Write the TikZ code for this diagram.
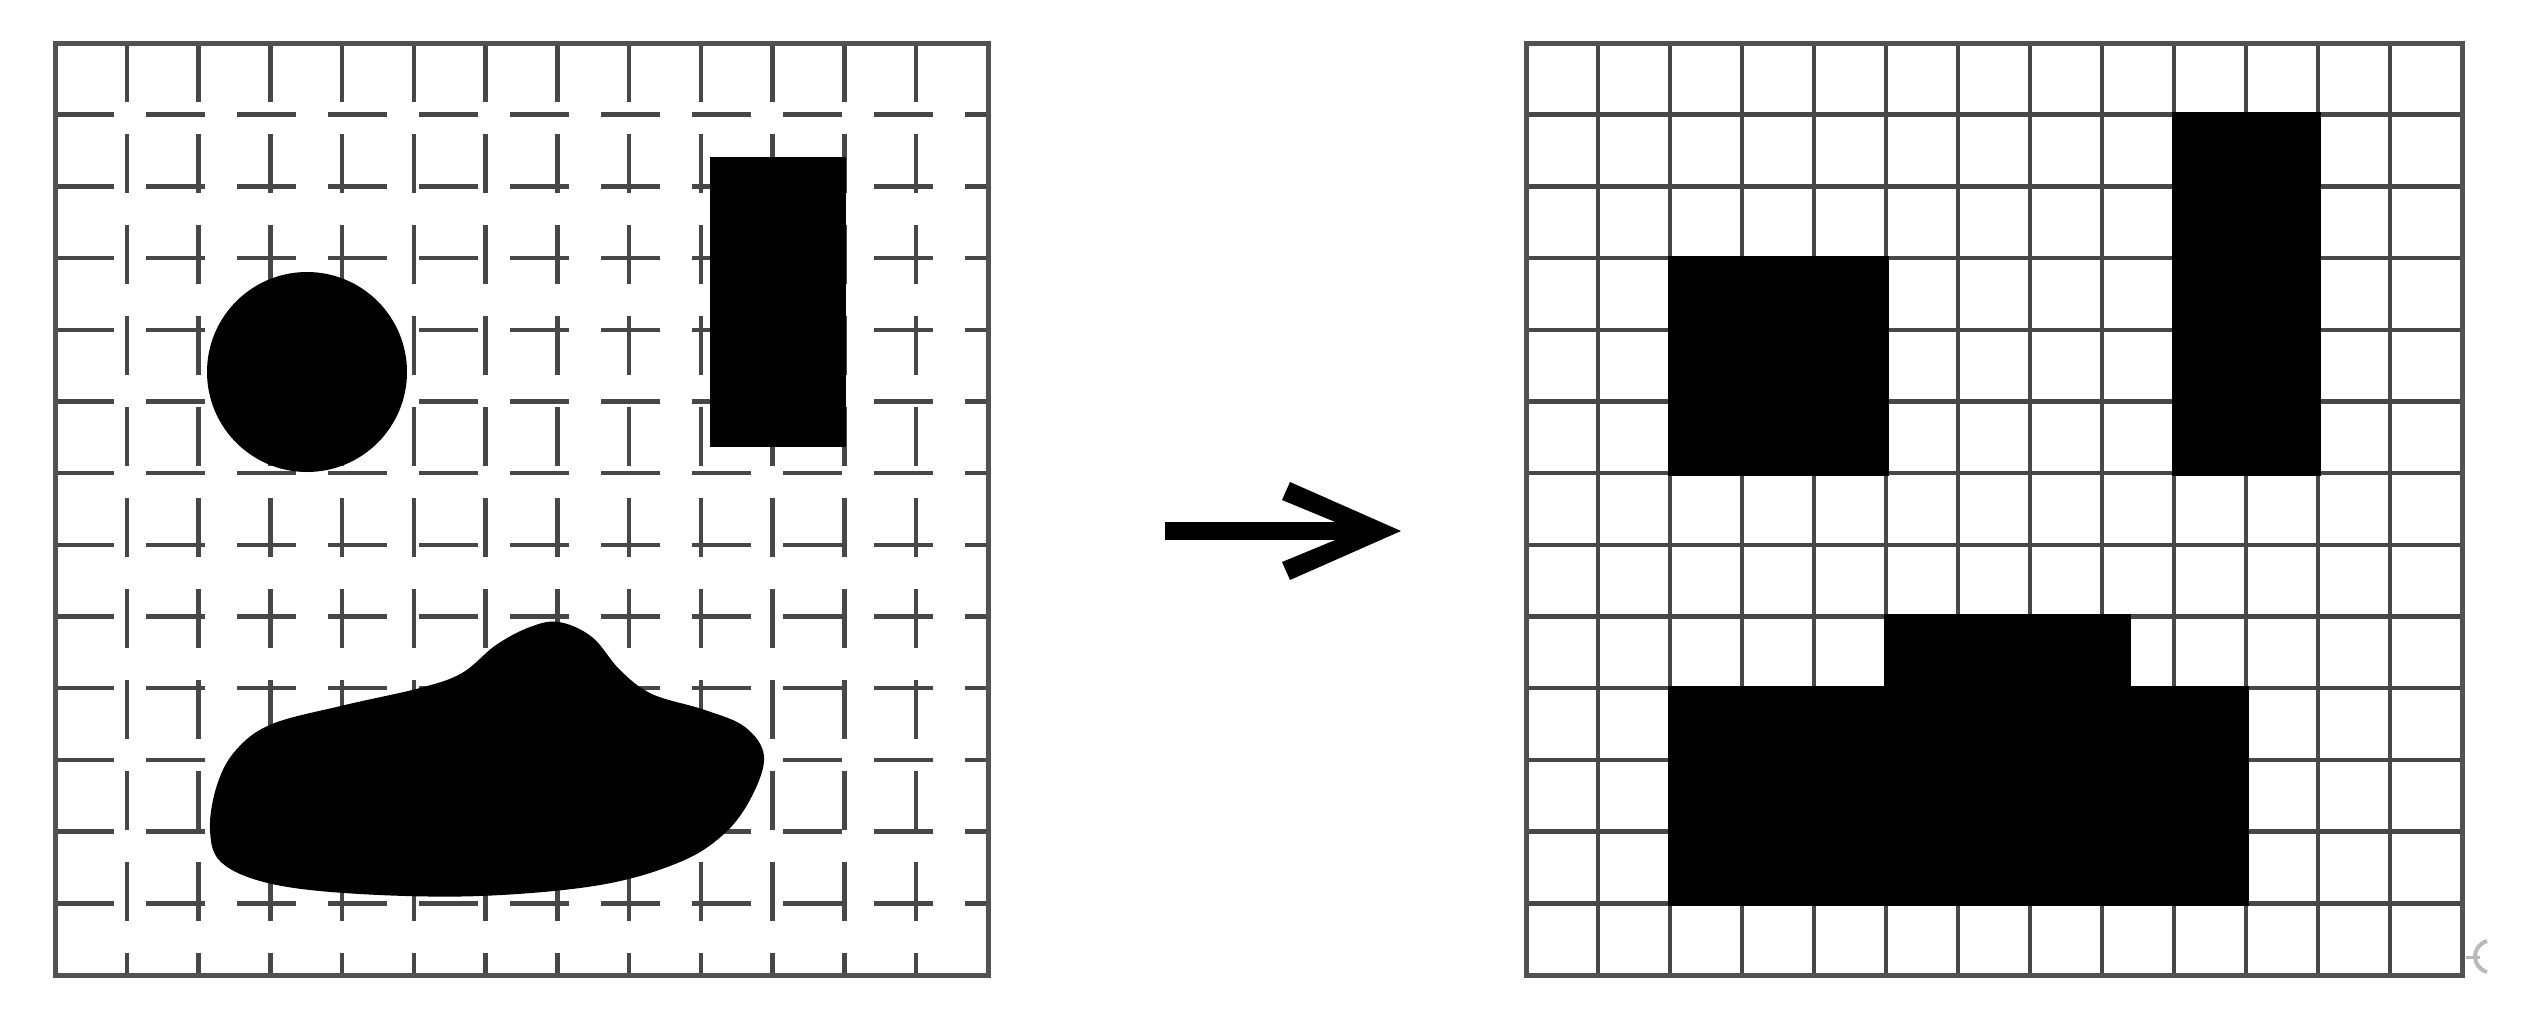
\documentclass[tikz,border=0pt]{standalone}
\begin{document}
\begin{tikzpicture}[x=1pt,y=-1pt,
  gridline/.style={draw=black!72,line width=4.5pt},
  dashline/.style={gridline,dash pattern=on 59pt off 32pt},
  border/.style={draw=black!68,line width=5pt},
  blackfill/.style={fill=black,draw=none}]
\useasboundingbox[fill=white] (0,0) rectangle (2524,1026);
% ---------- left grid (dashed) ----------
\def\lx{55}\def\rx{988}\def\ty{43}\def\by{975}
\pgfmathsetmacro\cw{(\rx-\lx)/13}
\pgfmathsetmacro\ch{(\by-\ty)/13}
\foreach \i in {1,...,12}{
  \draw[dashline] ({\lx+\i*\cw},\ty) -- ({\lx+\i*\cw},\by);
  \draw[dashline] (\lx,{\ty+\i*\ch}) -- (\rx,{\ty+\i*\ch});
}
\draw[border] (\lx,\ty) rectangle (\rx,\by);
% shapes on the left
\fill[blackfill] (307,372) circle (100);
\fill[blackfill] (710,157) rectangle (846,447);
\fill[blackfill] plot[smooth cycle,tension=0.6] coordinates {
 (559,622) (592,637) (620,670) (652,694) (705,710) (745,727) (764,756)
 (752,796) (725,833) (680,862) (600,885) (480,896) (360,894) (272,884)
 (222,863) (210,830) (217,785) (236,750) (272,724) (345,705) (420,688)
 (462,673) (496,645) (530,627)};
% ---------- arrow ----------
\coordinate (arrA) at (1165,531);
\coordinate (arrB) at (1372,531);
\draw[line width=18pt] (arrA) -- (arrB);
\fill[blackfill] (1401,531) -- (1290,482) -- (1282,500) -- (1357,531)
  -- (1282,562) -- (1290,580) -- cycle;
% ---------- right grid (solid) ----------
\def\Lx{1526}\def\Rx{2462}
\pgfmathsetmacro\Cw{(\Rx-\Lx)/13}
\foreach \i in {1,...,12}{
  \draw[gridline] ({\Lx+\i*\Cw},\ty) -- ({\Lx+\i*\Cw},\by);
  \draw[gridline] (\Lx,{\ty+\i*\ch}) -- (\Rx,{\ty+\i*\ch});
}
\draw[border] (\Lx,\ty) rectangle (\Rx,\by);
% filled cells
\fill[blackfill] ({\Lx+9*\Cw-2.5},{\ty+1*\ch-2.5}) rectangle ({\Lx+11*\Cw+2.5},{\ty+6*\ch+2.5});
\fill[blackfill] ({\Lx+2*\Cw-2.5},{\ty+3*\ch-2.5}) rectangle ({\Lx+5*\Cw+2.5},{\ty+6*\ch+2.5});
\fill[blackfill] ({\Lx+5*\Cw-2.5},{\ty+8*\ch-2.5}) rectangle ({\Lx+8.4*\Cw},{\ty+9*\ch+2.5});
\fill[blackfill] ({\Lx+2*\Cw-2.5},{\ty+9*\ch-2.5}) rectangle ({\Lx+10*\Cw+2.5},{\ty+12*\ch+2.5});
% small grey mark at the lower right
\draw[gray!55,line width=4pt] (2487,941) .. controls (2471,946) and (2471,967) .. (2487,972);
\draw[gray!55,line width=3pt] (2466,957) -- (2480,957);
\end{tikzpicture}
\end{document}
